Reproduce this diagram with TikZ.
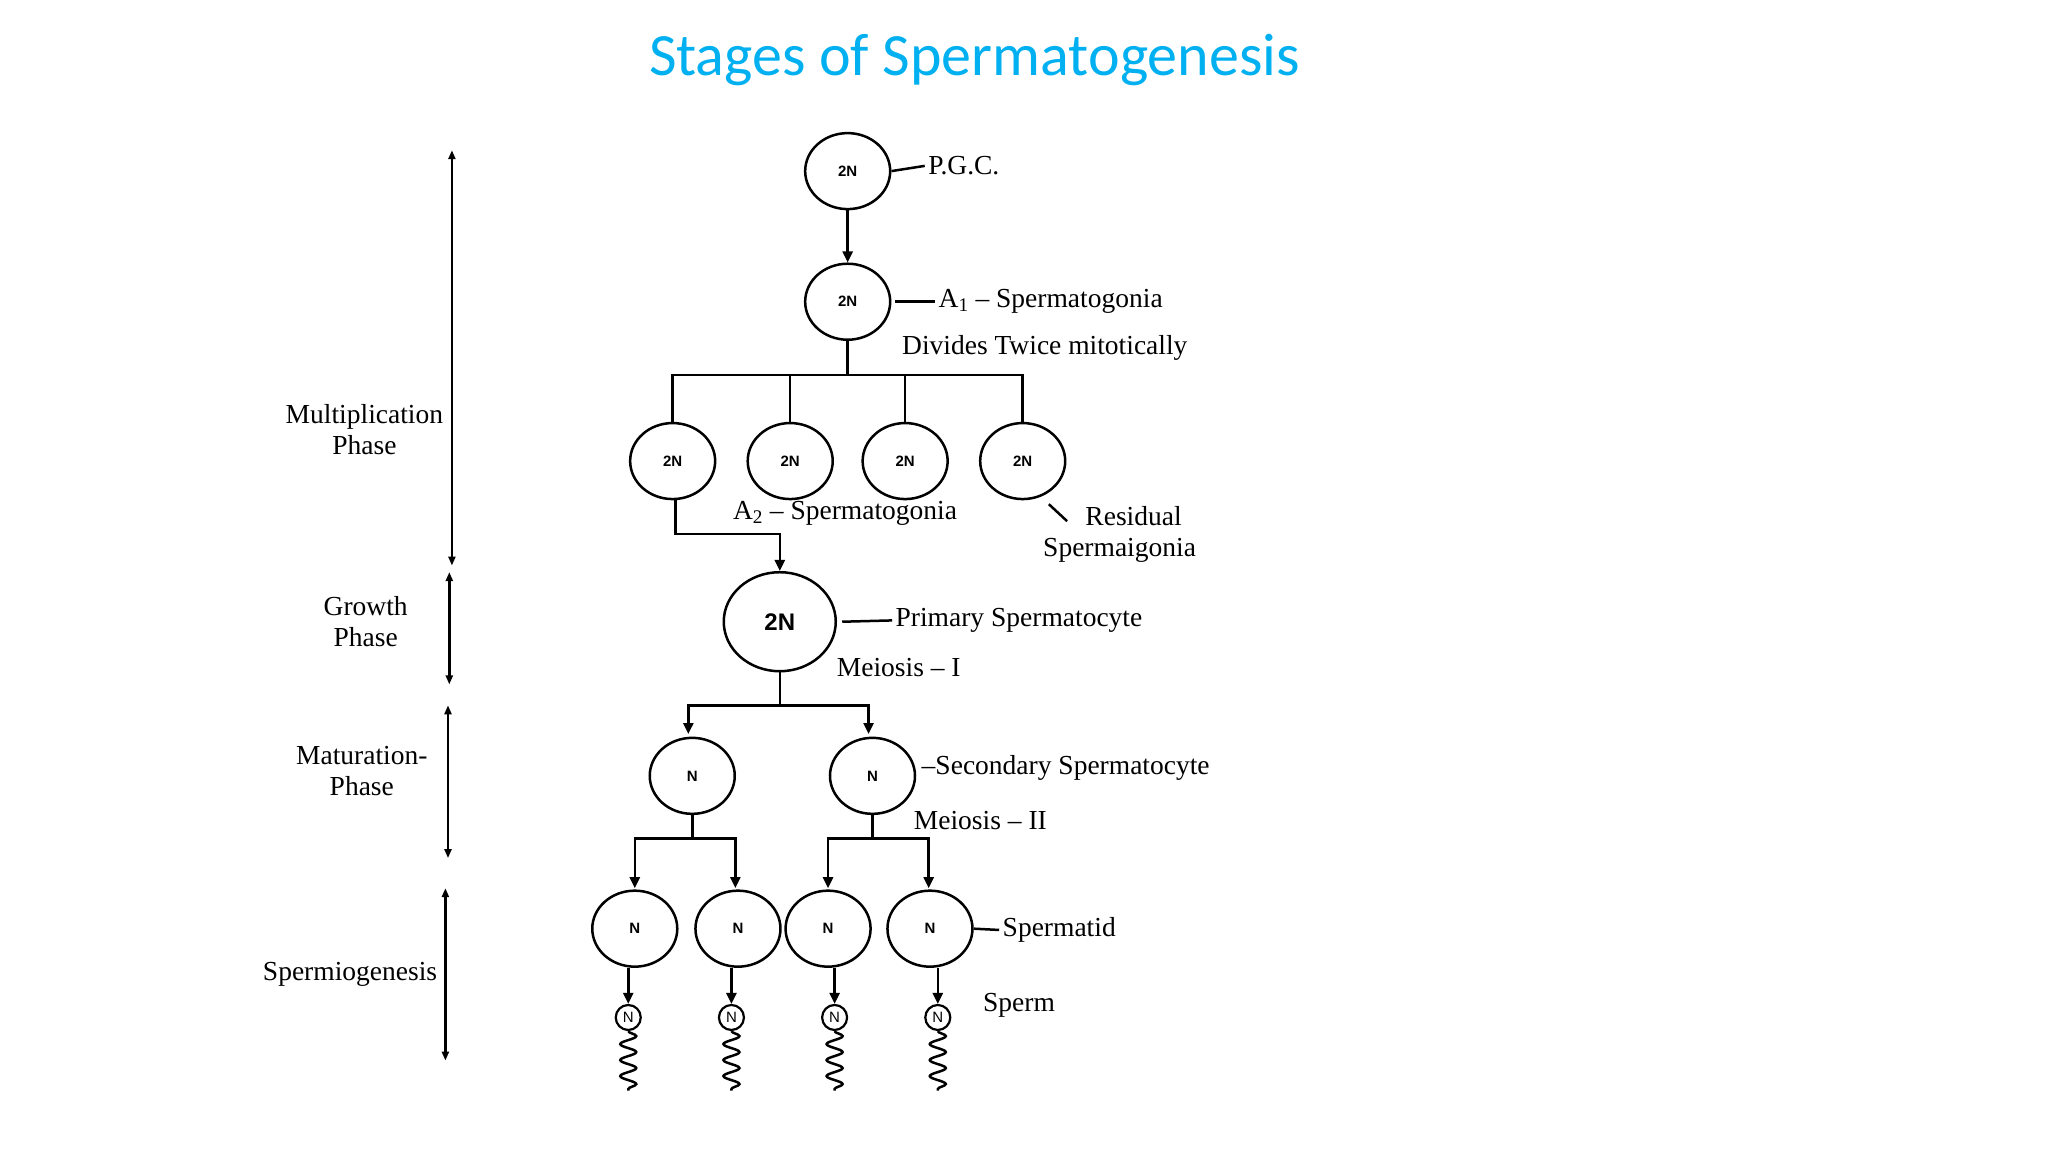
\documentclass[tikz,border=0pt]{standalone}
\usepackage{fontspec}
\setmainfont{Liberation Serif}
\newfontfamily\titlefont{Carlito}
\newfontfamily\cellfont{Liberation Sans}
\usetikzlibrary{arrows.meta,decorations.pathmorphing,shapes.geometric}
\definecolor{titleblue}{RGB}{0,176,240}
\begin{document}
\begin{tikzpicture}[x=1.306pt,y=-1.306pt,
  cell/.style={draw,line width=2.5pt,ellipse,minimum width=85pt,minimum height=76pt,inner sep=0pt,font=\cellfont\bfseries\fontsize{15}{16}\selectfont},
  big/.style={cell,minimum width=112pt,minimum height=99pt,font=\cellfont\bfseries\fontsize{24}{26}\selectfont},
  head/.style={draw,line width=2.2pt,circle,minimum size=25pt,inner sep=0pt,font=\cellfont\fontsize{15}{16}\selectfont},
  lab/.style={font=\fontsize{27.5}{31}\selectfont,align=center},
  ln/.style={line width=2.5pt},
  ar/.style={line width=2.5pt,-{Triangle[length=11pt,width=10pt]}},
  dar/.style={line width=2.6pt,{Triangle[length=9pt,width=7pt]}-{Triangle[length=9pt,width=7pt]}},
  tail/.style={line width=2.5pt,decorate,decoration={snake,amplitude=8pt,segment length=16pt}}]
\useasboundingbox (0,0) rectangle (1568,881);
\fill[white] (0,0) rectangle (1568,881);
\node[font=\titlefont\fontsize{60}{66}\selectfont,text=titleblue] (title) at (746,46) {Stages of Spermatogenesis};
% PGC
\node[cell] (pgc) at (649,131) {2N};
\node[lab,anchor=west] (pgcl) at (708,127) {P.G.C.};
\draw[ln] (pgc.east) -- (pgcl.west);
\node[cell] (a1) at (649,231) {2N};
\draw[ar] (pgc.south) -- (a1.north);
\node[lab,anchor=west] (a1l) at (716,231) {A\textsubscript{1} -- Spermatogonia};
\draw[ln] (a1.east) ++(3,0) -- (a1l.west);
\node[lab,anchor=west] (div) at (688,266) {Divides Twice mitotically};
% A2 row
\node[cell] (c1) at (515,353) {2N};
\node[cell] (c2) at (605,353) {2N};
\node[cell] (c3) at (693,353) {2N};
\node[cell] (c4) at (783,353) {2N};
\coordinate (j1) at (649,287);
\draw[ln] (a1.south) -- (j1);
\draw[ln] (c1.north) -- (c1.north |- j1) -- (c4.north |- j1) -- (c4.north);
\draw[ln] (c2.north) -- (c2.north |- j1);
\draw[ln] (c3.north) -- (c3.north |- j1);
\node[lab] (a2l) at (647,393) {A\textsubscript{2} -- Spermatogonia};
\node[lab,anchor=west] (res) at (796,409) {\hspace*{28pt}Residual\\Spermaigonia};
\coordinate (r1) at (803,386); \coordinate (r2) at (817,399);
\draw[ln] (r1) -- (r2);
% primary
\node[big] (prim) at (597,476) {2N};
\coordinate (k1) at (517,409);
\draw[ar] (517,382) -- (k1) -- (prim.north |- k1) -- (prim.north);
\node[lab,anchor=west] (priml) at (683,475) {Primary Spermatocyte};
\draw[ln] (prim.east) ++(4,0) -- (priml.west);
\node[lab,anchor=west] (m1) at (638,511) {Meiosis -- I};
% secondary
\node[cell] (s1) at (530,594) {N};
\node[cell] (s2) at (668,594) {N};
\coordinate (j2) at (597,540);
\draw[ln] (prim.south) -- (j2);
\draw[ar] (j2) -- (527,540) -- (527,562);
\draw[ar] (j2) -- (665,540) -- (665,562);
\node[lab,anchor=west] (secl) at (703,588) {--Secondary Spermatocyte};
\node[lab,anchor=west] (m2) at (697,628) {Meiosis -- II};
% spermatids
\node[cell] (t1) at (486,711) {N};
\node[cell] (t2) at (565,711) {N};
\node[cell] (t3) at (634,711) {N};
\node[cell] (t4) at (712,711) {N};
\coordinate (j3) at (530,642); \coordinate (j4) at (668,642);
\draw[ln] (s1.south) -- (j3);
\draw[ar] (j3) -- (486,642) -- (486,680);
\draw[ar] (j3) -- (563,642) -- (563,680);
\draw[ln] (s2.south) -- (j4);
\draw[ar] (j4) -- (634,642) -- (634,680);
\draw[ar] (j4) -- (711,642) -- (711,680);
\node[lab,anchor=west] (tl) at (765,712) {Spermatid};
\draw[ln] (t4.east) -- (tl.west);
% sperm
\foreach \i/\x in {1/481,2/560,3/639,4/718}{
  \node[head] (h\i) at (\x,779) {N};
  \draw[ar] (\x,741) -- (h\i.north);
  \coordinate (e\i) at (\x,835);
  \draw[tail] (h\i.south) -- (e\i);
}
\node[lab,anchor=west] (sp) at (750,770) {Sperm};
% phases
\node[lab] (p1) at (279,329) {Multiplication\\Phase};
\node[lab] (p2) at (280,476) {Growth\\Phase};
\node[lab] (p3) at (277,590) {Maturation-\\Phase};
\node[lab] (p4) at (268,746) {Spermiogenesis};
\coordinate (v1a) at (346,115); \coordinate (v1b) at (346,433);
\coordinate (v2a) at (344,438); \coordinate (v2b) at (344,524);
\coordinate (v3a) at (343,540); \coordinate (v3b) at (343,657);
\coordinate (v4a) at (341,680); \coordinate (v4b) at (341,812);
\draw[dar] (v1a) -- (v1b);
\draw[dar] (v2a) -- (v2b);
\draw[dar] (v3a) -- (v3b);
\draw[dar] (v4a) -- (v4b);
\end{tikzpicture}
\end{document}
